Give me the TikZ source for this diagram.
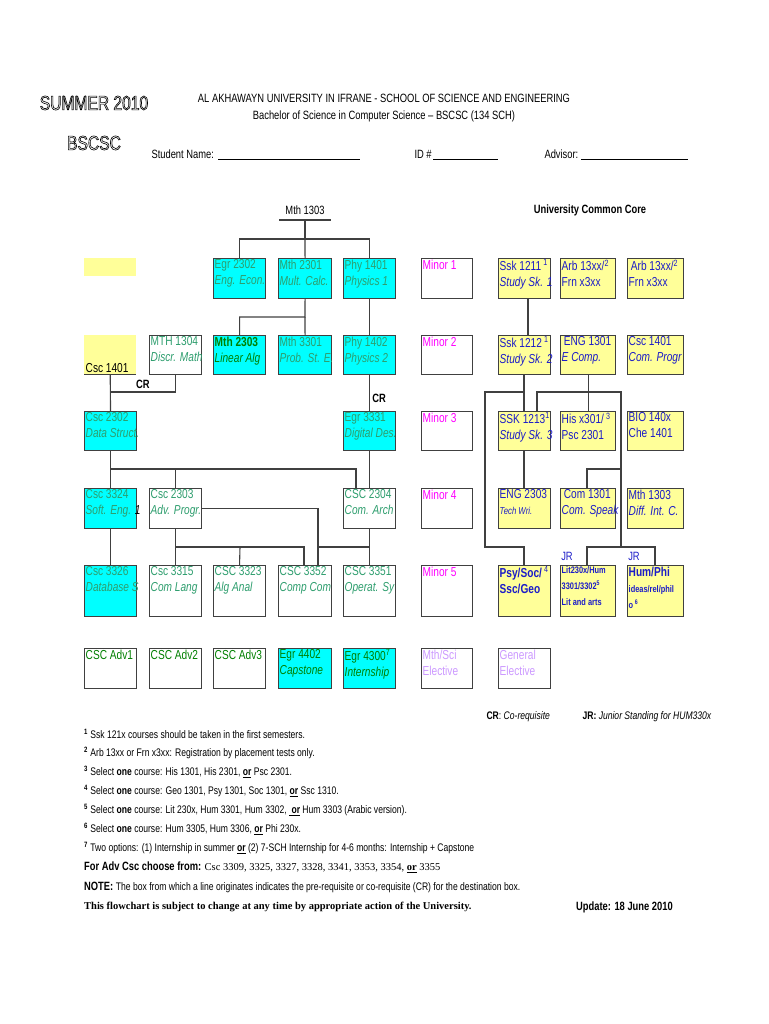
\documentclass[tikz,border=0pt]{standalone}
\usepackage{fontspec}
\setmainfont{Liberation Sans}[FakeStretch=0.78]
\newfontfamily\tnr{Liberation Serif}
\usetikzlibrary{calc}
\definecolor{cy}{HTML}{00FFFF}
\definecolor{yl}{HTML}{FFFF99}
\definecolor{tealc}{HTML}{2E9E6E}
\definecolor{dg}{HTML}{008000}
\definecolor{mg}{HTML}{FF00FF}
\definecolor{lp}{HTML}{CC99FF}
\definecolor{bl}{HTML}{1C1CC8}
\newcommand\outl[1]{\special{pdf:literal direct 1 Tr 0.6 w}#1\special{pdf:literal direct 0 Tr}}
\tikzset{bx/.style={draw=black!75,line width=1.1pt,inner sep=0pt},
 ln/.style={draw=black!75,line width=1.1pt},
 tx/.style={anchor=north west,inner sep=1.5pt,align=left,font=\fontsize{13}{16}\selectfont}}
\newcommand\cbx[8]{\node[bx,fill=#6,minimum width=#4pt,minimum height=#5pt,anchor=north west] (#1) at (#2,#3) {};
 \node[tx,text=#7] at (#1.north west) {#8};}
\begin{document}
\begin{tikzpicture}[x=1pt,y=-1pt]
\path[use as bounding box] (0,0) rectangle (768,1024);
% header
\node[font=\fontsize{20}{22}\selectfont] (s1) at (94,103) {\outl{SUMMER 2010}};
\node[font=\fontsize{20}{22}\selectfont] (s2) at (94,143) {\outl{BSCSC}};
\node[font=\fontsize{12}{14}\selectfont] (t1) at (384,98) {AL AKHAWAYN UNIVERSITY IN IFRANE - SCHOOL OF SCIENCE AND ENGINEERING};
\node[font=\fontsize{12}{14}\selectfont] (t2) at (384,116) {Bachelor of Science in Computer Science -- BSCSC (134 SCH)};
\node[font=\fontsize{12}{14}\selectfont,anchor=west] (sn) at (148,154) {Student Name:};
\node[font=\fontsize{12}{14}\selectfont,anchor=west] (id) at (411,154) {ID \#};
\node[font=\fontsize{12}{14}\selectfont,anchor=west] (ad) at (541,154) {Advisor:};
\draw[line width=1pt] (218,160) -- (360,160) (433,160) -- (498,160) (581,160) -- (688,160);
% Mth 1303 top
\node[font=\fontsize{12}{14}\selectfont] (m1303) at (305,210) {Mth 1303};
\node[font=\bfseries\fontsize{12}{14}\selectfont] (ucc) at (590,210) {University Common Core};
\draw[ln] (279,220) -- (331,220);
\coordinate (mt) at (305,220);
% row1
\node[fill=yl,minimum width=52pt,minimum height=18pt,anchor=north west,inner sep=0pt] (y1) at (84,258) {};
\cbx{e2302}{213}{258}{52}{40}{cy}{tealc}{Egr 2302\\\textit{Eng. Econ.}}
\cbx{m2301}{278}{258}{53}{40}{cy}{tealc}{Mth 2301\\\textit{Mult. Calc.}}
\cbx{p1401}{343}{258}{52}{40}{cy}{tealc}{Phy 1401\\\textit{Physics 1}}
\cbx{mi1}{421}{258}{51}{40}{white}{mg}{Minor 1}
\cbx{s1211}{498}{258}{52}{40}{yl}{bl}{Ssk 1211\,\textsuperscript{1}\\\textit{Study Sk. 1}}
\cbx{a1}{560}{258}{55}{40}{yl}{bl}{Arb 13xx/\textsuperscript{2}\\Frn x3xx}
\cbx{a2}{627}{258}{56}{40}{yl}{bl}{\,Arb 13xx/\textsuperscript{2}\\Frn x3xx}
% row2
\node[fill=yl,minimum width=52pt,minimum height=39pt,anchor=north west,inner sep=0pt] (c1401) at (84,335) {};
\node[anchor=south west,inner sep=1.5pt,font=\fontsize{13}{16}\selectfont] (c1401t) at (c1401.south west) {Csc 1401};
\draw[ln] (c1401.south west) -- (c1401.south east);
\cbx{m1304}{149}{335}{52}{39}{white}{tealc}{MTH 1304\\\textit{Discr. Math}}
\cbx{m2303}{213}{335}{52}{39}{cy}{dg}{\textbf{Mth 2303}\\\textit{Linear Alg}}
\cbx{m3301}{278}{335}{53}{39}{cy}{tealc}{Mth 3301\\\textit{Prob. St. E.}}
\cbx{p1402}{343}{335}{52}{39}{cy}{tealc}{Phy 1402\\\textit{Physics 2}}
\cbx{mi2}{421}{335}{51}{39}{white}{mg}{Minor 2}
\cbx{s1212}{498}{335}{52}{39}{yl}{bl}{Ssk 1212\,\textsuperscript{1}\\\textit{Study Sk. 2}}
\cbx{e1301}{560}{335}{55}{39}{yl}{bl}{\,ENG 1301\\\textit{E Comp.}}
\cbx{c1401b}{627}{335}{56}{39}{yl}{bl}{Csc 1401\\\textit{Com. Progr}}
% row3
\cbx{c2302}{84}{411}{52}{39}{cy}{tealc}{Csc 2302\\\textit{Data Struct.}}
\cbx{e3331}{343}{411}{52}{39}{cy}{tealc}{Egr 3331\\\textit{Digital Des.}}
\cbx{mi3}{421}{411}{51}{39}{white}{mg}{Minor 3}
\cbx{s1213}{498}{411}{52}{39}{yl}{bl}{SSK 1213\textsuperscript{1}\\\textit{Study Sk. 3}}
\cbx{h3301}{560}{411}{55}{39}{yl}{bl}{His x301/\,\textsuperscript{3}\\Psc 2301}
\cbx{bio}{627}{411}{56}{39}{yl}{bl}{BIO 140x\\Che 1401}
% row4
\cbx{c3324}{84}{488}{52}{40}{cy}{tealc}{Csc 3324\\\textit{Soft. Eng. \textcolor{black}{1}}}
\cbx{c2303}{149}{488}{52}{40}{white}{tealc}{Csc 2303\\\textit{Adv. Progr.}}
\cbx{c2304}{343}{488}{52}{40}{white}{tealc}{CSC 2304\\\textit{Com. Arch}}
\cbx{mi4}{421}{488}{51}{40}{white}{mg}{Minor 4}
\cbx{e2303}{498}{488}{52}{40}{yl}{bl}{ENG 2303\\\fontsize{10}{16}\selectfont\textit{Tech Wri.}}
\cbx{com}{560}{488}{55}{40}{yl}{bl}{\,Com 1301\\\textit{Com. Speak}}
\cbx{m1303b}{627}{488}{56}{40}{yl}{bl}{Mth 1303\\\textit{Diff. Int. C.}}
% row5
\cbx{c3326}{84}{565}{52}{51}{cy}{tealc}{Csc 3326\\\textit{Database S}}
\cbx{c3315}{149}{565}{52}{51}{white}{tealc}{Csc 3315\\\textit{Com Lang}}
\cbx{c3323}{213}{565}{52}{51}{white}{tealc}{CSC 3323\\\textit{Alg Anal}}
\cbx{c3352}{278}{565}{53}{51}{white}{tealc}{CSC 3352\\\textit{Comp Com}}
\cbx{c3351}{343}{565}{52}{51}{white}{tealc}{CSC 3351\\\textit{Operat. Sy}}
\cbx{mi5}{421}{565}{51}{51}{white}{mg}{Minor 5}
\cbx{psy}{498}{565}{52}{51}{yl}{bl}{\textbf{Psy/Soc/}\,\textsuperscript{4}\\\textbf{Ssc/Geo}}
\cbx{lit}{560}{565}{55}{51}{yl}{bl}{\fontsize{9.5}{12}\selectfont\bfseries Lit230x/Hum\\\fontsize{9.5}{12}\selectfont\bfseries 3301/3302\textsuperscript{5}\\\fontsize{9.5}{12}\selectfont\bfseries Lit and arts}
\cbx{hum}{627}{565}{56}{51}{yl}{bl}{\textbf{Hum/Phi}\\\fontsize{9.5}{12}\selectfont\bfseries ideas/rel/phil\\\fontsize{9.5}{12}\selectfont\bfseries o\,\textsuperscript{6}}
% row6
\cbx{adv1}{84}{648}{52}{40}{white}{dg}{CSC Adv1}
\cbx{adv2}{149}{648}{52}{40}{white}{dg}{CSC Adv2}
\cbx{adv3}{213}{648}{52}{40}{white}{dg}{CSC Adv3}
\cbx{e4402}{278}{648}{53}{40}{cy}{dg}{Egr 4402\\\textit{Capstone}}
\cbx{e4300}{343}{648}{52}{40}{cy}{dg}{Egr 4300\textsuperscript{7}\\\textit{Internship}}
\cbx{msel}{421}{648}{51}{40}{white}{lp}{Mth/Sci\\Elective}
\cbx{gel}{498}{648}{52}{40}{white}{lp}{General\\Elective}
% connectors left
\draw[ln] (mt) -- (305,239);
\draw[ln] (e2302.north) |- (305,239) -| (p1401.north);
\draw[ln] (305,239) -- (m2301.north);
\draw[ln] (m2301.south) -- (305,317) -| (m2303.north);
\draw[ln] (305,317) -- (m3301.north);
\draw[ln] (p1401.south) -- (p1402.north);
\draw[ln] (p1402.south) -- (e3331.north) node[pos=0.65,right=-1pt,font=\bfseries\fontsize{12}{14}\selectfont]{CR};
\draw[ln] (c1401.south) -- (c2302.north);
\draw[ln] (m1304.south) |- (110,392) node[pos=0.75,above,font=\bfseries\fontsize{12}{14}\selectfont]{CR};
\draw[ln] (c2302.south) -- (c3324.north);
\draw[ln] (110,469) -| (c2303.north);
\draw[ln] (175,469) -| (356,488);
\draw[ln] (e3331.south) -- (c2304.north);
\draw[ln] (c3324.south) -- (c3326.north);
\draw[ln] (c2303.east) -| (318,565);
\draw[ln] (c2303.south) -- (c3315.north);
\draw[ln] (175,547) -| (304,565);
\draw[ln] (240,547) -- (c3323.north);
\draw[ln] (c2304.south) -- (c3351.north);
\draw[ln] (318,547) -- (369,547);
% connectors right
\draw[ln] (528,298) -- (528,335);
\draw[ln] (524,374) -- (524,411);
\draw[ln] (524,392) -- (485,392) -- (485,547) -| (524,565);
\draw[ln] (e1301.south) -- (h3301.north);
\draw[ln] (537,411) |- (621,392) -- (621,547);
\draw[ln] (621,469) -| (587,488);
\draw[ln] (587,565) |- (655,547) -- (655,565);
\draw[ln] (524,450) -- (524,488);
\node[font=\fontsize{12}{14}\selectfont,text=bl] (jr1) at (567,556) {JR};
\node[font=\fontsize{12}{14}\selectfont,text=bl] (jr2) at (634,556) {JR};
% legend
\node[anchor=west,font=\fontsize{11}{13}\selectfont] (cr) at (483,717) {\textbf{CR}: \textit{Co-requisite}};
\node[anchor=west,font=\fontsize{11}{13}\selectfont] (jr) at (579,717) {\textbf{JR:} \textit{Junior Standing for HUM330x}};
% footnotes
\begin{scope}[every node/.style={anchor=west,inner sep=0pt,font=\fontsize{11}{13}\selectfont}]
\node (f1) at (84,734) {\textsuperscript{\textbf{1}} Ssk 121x courses should be taken in the first semesters.};
\node (f2) at (84,753) {\textsuperscript{\textbf{2}} Arb 13xx or Frn x3xx: Registration by placement tests only.};
\node (f3) at (84,772) {\textsuperscript{\textbf{3}} Select \textbf{one} course: His 1301, His 2301, \underline{\textbf{or}} Psc 2301.};
\node (f4) at (84,791) {\textsuperscript{\textbf{4}} Select \textbf{one} course: Geo 1301, Psy 1301, Soc 1301, \underline{\textbf{or}} Ssc 1310.};
\node (f5) at (84,810) {\textsuperscript{\textbf{5}} Select \textbf{one} course: Lit 230x, Hum 3301, Hum 3302, \underline{\ \textbf{or}} Hum 3303 (Arabic version).};
\node (f6) at (84,829) {\textsuperscript{\textbf{6}} Select \textbf{one} course: Hum 3305, Hum 3306, \underline{\textbf{or}} Phi 230x.};
\node (f7) at (84,848) {\textsuperscript{\textbf{7}} Two options: (1) Internship in summer \underline{\textbf{or}} (2) 7-SCH Internship for 4-6 months: Internship + Capstone};
\node (f8) at (84,867) {\fontsize{12}{14}\selectfont\textbf{For Adv Csc choose from:} {\tnr\fontsize{10.5}{13}\selectfont Csc 3309, 3325, 3327, 3328, 3341, 3353, 3354, \underline{\textbf{or}} 3355}};
\node (f9) at (84,887) {\fontsize{12}{14}\selectfont\textbf{NOTE:} \fontsize{11}{13}\selectfont The box from which a line originates indicates the pre-requisite or co-requisite (CR) for the destination box.};
\node (f10) at (84,907) {\tnr\bfseries\fontsize{10.5}{13}\selectfont This flowchart is subject to change at any time by appropriate action of the University.};
\node (up) at (576,907) {\bfseries\fontsize{12}{14}\selectfont Update: 18 June 2010};
\end{scope}
\end{tikzpicture}
\end{document}
